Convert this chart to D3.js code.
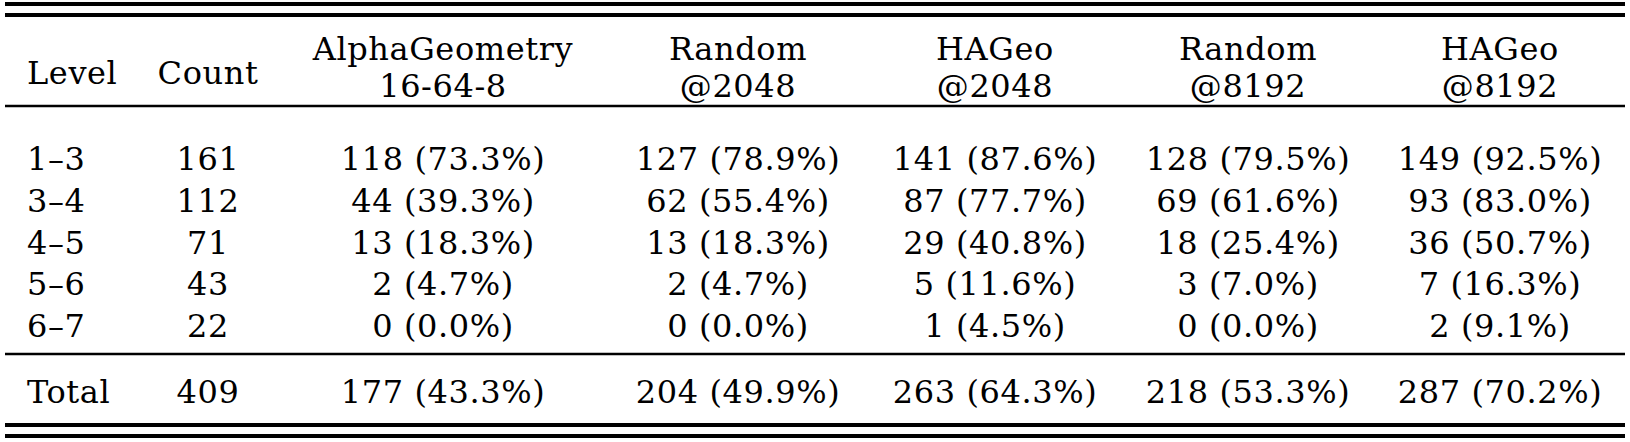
<!DOCTYPE html>
<html><head><meta charset="utf-8">
<script src="https://cdn.jsdelivr.net/npm/d3@7"></script>
<style>body{margin:0;background:#fff}</style>
</head><body>
<svg id="t" width="1630" height="442"></svg>
<script>
var headers = [["Level"], ["Count"], ["AlphaGeometry", "16-64-8"], ["Random", "@2048"], ["HAGeo", "@2048"], ["Random", "@8192"], ["HAGeo", "@8192"]];
var levels = ["1\u20133", "3\u20134", "4\u20135", "5\u20136", "6\u20137"];
var counts = [161, 112, 71, 43, 22];
var alphaGeo = ["118 (73.3%)", "44 (39.3%)", "13 (18.3%)", "2 (4.7%)", "0 (0.0%)"];
var random2048 = ["127 (78.9%)", "62 (55.4%)", "13 (18.3%)", "2 (4.7%)", "0 (0.0%)"];
var hageo2048 = ["141 (87.6%)", "87 (77.7%)", "29 (40.8%)", "5 (11.6%)", "1 (4.5%)"];
var random8192 = ["128 (79.5%)", "69 (61.6%)", "18 (25.4%)", "3 (7.0%)", "0 (0.0%)"];
var hageo8192 = ["149 (92.5%)", "93 (83.0%)", "36 (50.7%)", "7 (16.3%)", "2 (9.1%)"];
var totals = ["Total", "409", "177 (43.3%)", "204 (49.9%)", "263 (64.3%)", "218 (53.3%)", "287 (70.2%)"];

var svg = d3.select('#t');
var font = '"DejaVu Serif", serif';
var fs = 32;
var colCenters = [27, 208, 443, 738, 995, 1248, 1500];
var x = d3.scaleOrdinal().domain(d3.range(7)).range(colCenters);
var y = d3.scalePoint().domain(d3.range(5)).range([170, 337]);

function rule(yy, w) {
    svg.append('rect').attr('x', 5).attr('width', 1620).attr('y', yy - w / 2).attr('height', w).attr('fill', '#000');
}
rule(4, 4); rule(15, 4); rule(106, 2.5); rule(354, 2.5); rule(425, 4); rule(436, 4);

function cell(i, yy, txt) {
    svg.append('text').attr('x', x(i)).attr('y', yy)
        .attr('text-anchor', i == 0 ? 'start' : 'middle')
        .style('font-family', font).style('font-size', fs + 'px')
        .style('letter-spacing', '0.6px').text(txt);
}
headers.forEach((h, i) => {
    if (h.length == 1) cell(i, 84, h[0]);
    else { cell(i, 60, h[0]); cell(i, 97, h[1]); }
});
var cols = [levels, counts, alphaGeo, random2048, hageo2048, random8192, hageo8192];
cols.forEach((c, i) => c.forEach((v, r) => cell(i, y(r), v)));
totals.forEach((v, i) => cell(i, 403, v));
</script>
</body></html>
